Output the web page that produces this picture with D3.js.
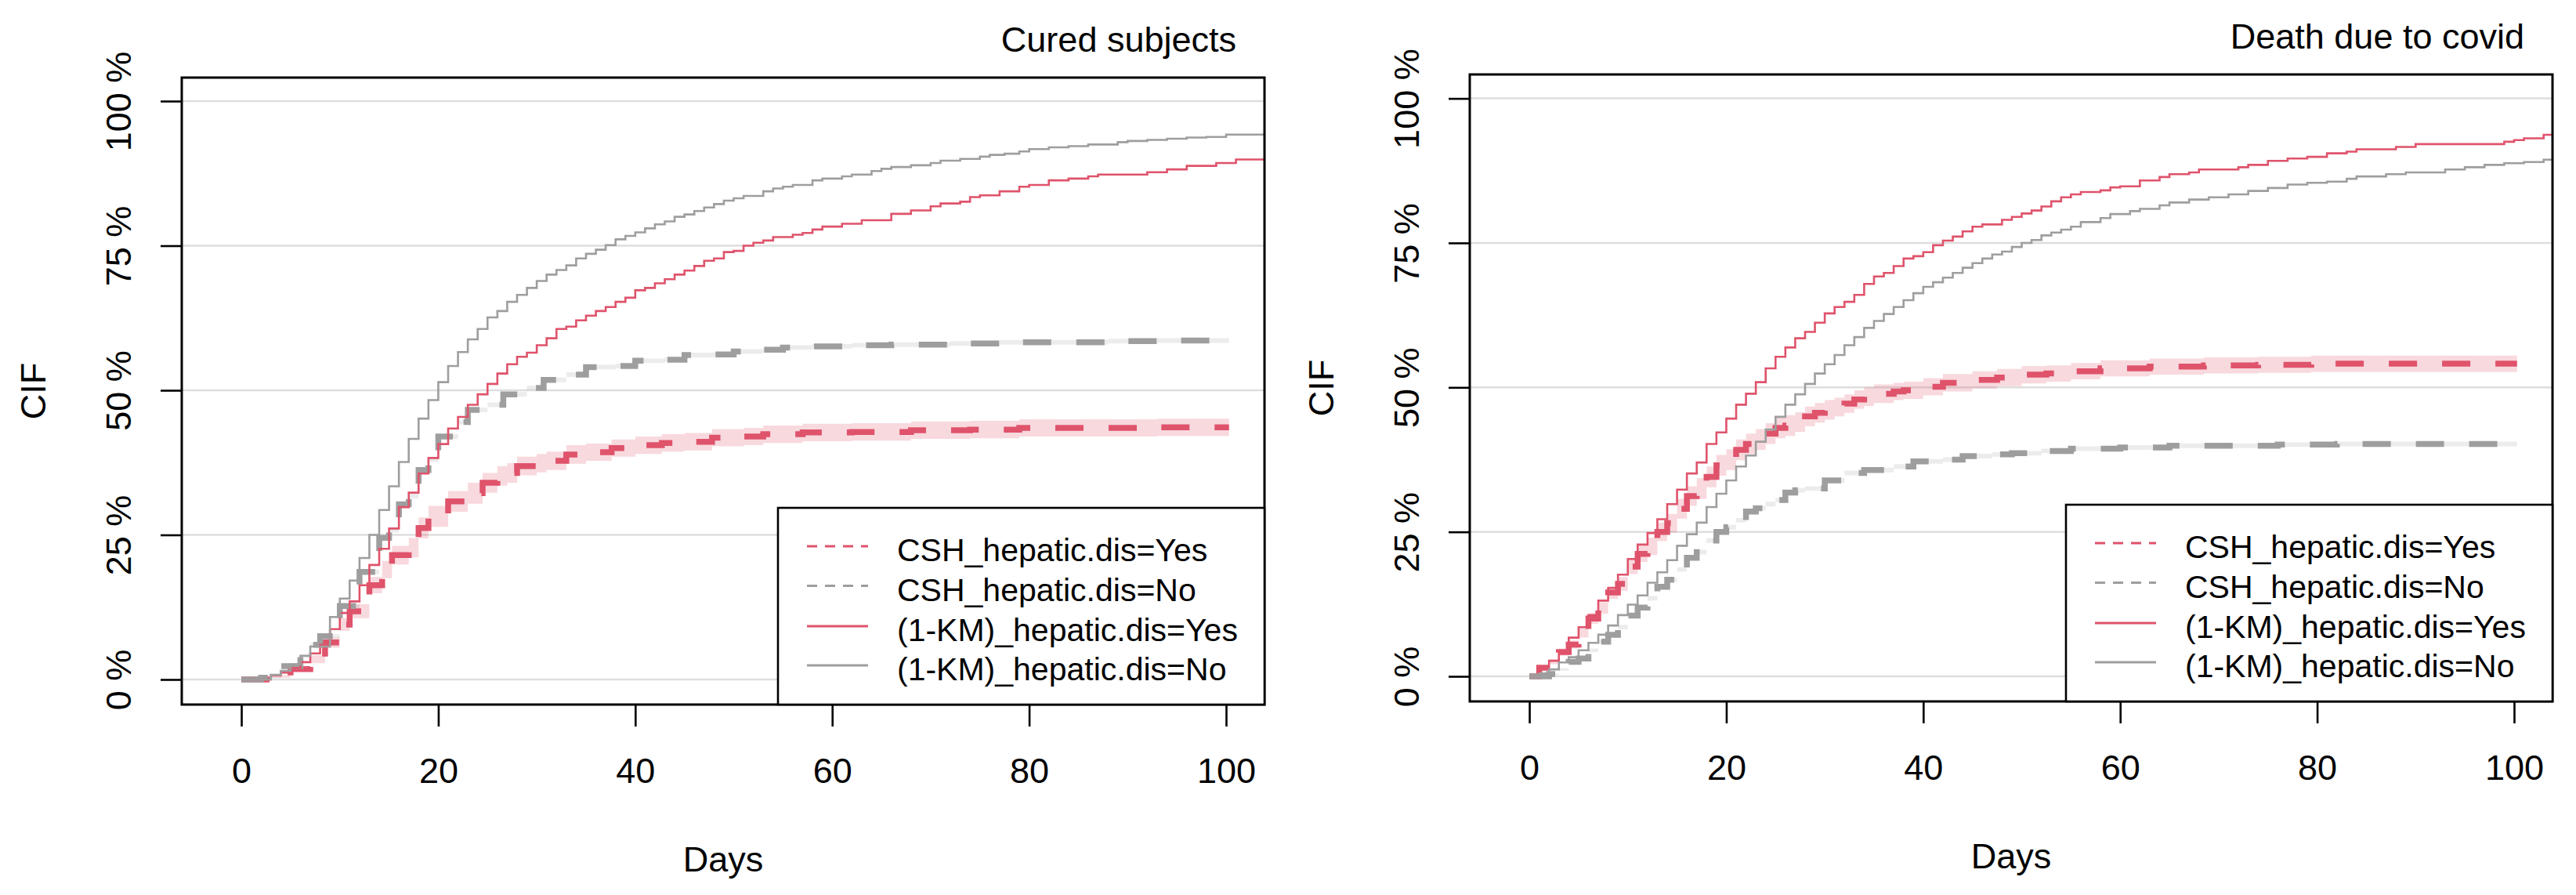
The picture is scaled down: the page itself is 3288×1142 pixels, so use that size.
<!DOCTYPE html>
<html>
<head>
<meta charset="utf-8">
<script src="https://cdn.jsdelivr.net/npm/d3@7/dist/d3.min.js"></script>
<style>
html, body { margin: 0; padding: 0; background: #ffffff; }
svg { display: block; }
text { font-family: "Liberation Sans", Arial, Helvetica, sans-serif; fill: #000; }
</style>
</head>
<body>
<svg id="chart" width="3288" height="1142"></svg>
<script>
// ---------------- data ----------------
const panelTitles = ["Cured subjects", "Death due to covid"];
const xTickValues = [0, 20, 40, 60, 80, 100];
const yTickValues = [0, 0.25, 0.5, 0.75, 1];
const yTickLabels = ["0 %", "25 %", "50 %", "75 %", "100 %"];
const xAxisLabel = "Days";
const yAxisLabel = "CIF";
const legendLabels = ["CSH_hepatic.dis=Yes", "CSH_hepatic.dis=No", "(1-KM)_hepatic.dis=Yes", "(1-KM)_hepatic.dis=No"];

// CSH curves: [day, CIF, CI half-width]
const curedCshYes = [[0,0,0],[3,0.005,0.002],[5,0.018,0.004],[7,0.035,0.007],[8.5,0.064,0.009],[10,0.095,0.011],[11,0.118,0.012],[13,0.163,0.014],[14.3,0.190,0.015],[15.3,0.215,0.016],[17,0.228,0.017],[18,0.262,0.018],[19,0.282,0.018],[21,0.308,0.018],[23,0.322,0.018],[24.5,0.340,0.017],[26,0.352,0.017],[27,0.357,0.017],[28,0.369,0.016],[30,0.374,0.016],[31,0.378,0.016],[33,0.389,0.016],[35,0.393,0.015],[37.6,0.400,0.015],[40,0.405,0.015],[42.7,0.409,0.015],[45,0.411,0.015],[47.8,0.418,0.015],[51,0.420,0.015],[53,0.424,0.015],[57,0.427,0.015],[62,0.428,0.015],[68,0.431,0.015],[74,0.432,0.015],[79,0.435,0.015],[86,0.435,0.015],[93,0.436,0.015],[100.3,0.436,0.015]];
const curedCshNo = [[0,0,0],[2,0.003,0.001],[4,0.023,0.002],[6,0.040,0.003],[7,0.060,0.003],[8,0.075,0.003],[10,0.127,0.004],[12,0.186,0.004],[14,0.245,0.004],[15,0.258,0.004],[16,0.303,0.004],[17,0.317,0.004],[18,0.362,0.004],[19,0.380,0.004],[20,0.420,0.004],[22,0.445,0.004],[23,0.466,0.004],[25,0.475,0.004],[26.6,0.493,0.004],[29,0.504,0.004],[30.7,0.518,0.004],[33,0.527,0.004],[35,0.540,0.004],[38,0.542,0.004],[40,0.551,0.004],[43,0.553,0.004],[45,0.561,0.004],[48,0.562,0.004],[50,0.567,0.004],[53,0.570,0.004],[55,0.574,0.004],[58,0.576,0.004],[62,0.578,0.004],[66,0.579,0.004],[72,0.581,0.004],[77,0.583,0.004],[84,0.583,0.004],[88,0.585,0.004],[93,0.586,0.004],[100.3,0.586,0.004]];
// (1-KM) curves: [day, CIF]
const curedKmYes = [[0,0],[3,0.007],[4,0.012],[5,0.020],[6,0.030],[7,0.045],[8,0.060],[9,0.087],[10,0.115],[11,0.135],[12,0.163],[13,0.198],[14,0.226],[15,0.261],[16,0.298],[17,0.323],[18,0.356],[19,0.383],[20,0.407],[21,0.434],[22,0.454],[23,0.475],[24,0.493],[25,0.511],[26,0.529],[27,0.545],[28,0.558],[29,0.565],[30,0.578],[31,0.590],[32,0.606],[33,0.610],[34,0.621],[35,0.629],[36,0.637],[37,0.644],[38,0.653],[39,0.660],[40,0.673],[41,0.677],[42,0.685],[43,0.692],[44,0.700],[45,0.707],[46,0.715],[47,0.724],[48,0.728],[49,0.739],[50,0.741],[51,0.750],[52,0.755],[53,0.759],[54,0.765],[56,0.769],[57,0.772],[58,0.778],[59,0.783],[61,0.788],[63,0.794],[66,0.805],[68,0.811],[70,0.818],[71,0.823],[73,0.826],[74,0.834],[75,0.837],[77,0.844],[79,0.852],[80,0.855],[82,0.863],[84,0.866],[86,0.870],[87,0.873],[92,0.877],[94,0.882],[96,0.888],[99,0.893],[101,0.899],[104,0.899]];
const curedKmNo = [[0,0],[3,0.008],[4,0.015],[5,0.026],[6,0.041],[7,0.057],[9,0.108],[10,0.140],[11,0.171],[12,0.210],[13,0.250],[14,0.293],[15,0.334],[16,0.376],[17,0.416],[18,0.451],[19,0.483],[20,0.514],[21,0.542],[22,0.566],[23,0.588],[24,0.606],[25,0.626],[26,0.637],[27,0.653],[28,0.665],[29,0.677],[30,0.689],[31,0.700],[32,0.708],[33,0.716],[34,0.728],[35,0.736],[36,0.743],[37,0.751],[38,0.761],[39,0.767],[40,0.773],[41,0.780],[42,0.787],[43,0.792],[44,0.800],[45,0.804],[46,0.810],[47,0.816],[48,0.822],[49,0.828],[50,0.832],[51,0.836],[53,0.844],[54,0.849],[55,0.852],[56,0.855],[58,0.863],[59,0.866],[61,0.870],[62,0.873],[64,0.879],[65,0.883],[66,0.886],[68,0.889],[70,0.893],[71,0.897],[73,0.900],[75,0.904],[76,0.907],[77.5,0.909],[79,0.913],[80,0.917],[82,0.920],[84,0.922],[86,0.925],[89,0.929],[90,0.931],[92,0.933],[94,0.935],[96,0.937],[98,0.938],[100,0.942],[104,0.942]];

const deathCshYes = [[0,0,0],[1,0.015,0.003],[2,0.025,0.004],[3,0.042,0.006],[4,0.055,0.007],[5,0.075,0.008],[6,0.100,0.009],[7,0.118,0.010],[8,0.145,0.011],[9,0.160,0.012],[10,0.190,0.013],[11,0.212,0.014],[12,0.225,0.015],[13,0.250,0.016],[14,0.265,0.016],[15,0.290,0.017],[16,0.312,0.017],[17,0.325,0.018],[18,0.345,0.018],[19,0.365,0.018],[20,0.375,0.018],[21,0.392,0.018],[22,0.402,0.018],[23,0.410,0.018],[24,0.420,0.018],[25,0.430,0.018],[26,0.434,0.018],[27,0.440,0.017],[28,0.450,0.017],[29,0.456,0.017],[30,0.461,0.017],[31,0.466,0.016],[32,0.472,0.016],[33,0.479,0.016],[34,0.484,0.016],[35,0.489,0.016],[37,0.493,0.015],[38,0.495,0.015],[40,0.501,0.015],[42,0.508,0.015],[45,0.513,0.015],[47.5,0.517,0.015],[50,0.522,0.015],[52.5,0.524,0.014],[55,0.528,0.014],[58,0.533,0.014],[63,0.536,0.014],[68.5,0.538,0.014],[74,0.539,0.014],[79.4,0.541,0.014],[100.3,0.541,0.014]];
const deathCshNo = [[0,0,0],[2,0.004,0.001],[3,0.012,0.002],[4,0.025,0.002],[5,0.031,0.003],[6,0.045,0.003],[7,0.060,0.003],[8,0.072,0.004],[9,0.085,0.004],[10,0.105,0.004],[11,0.119,0.004],[12,0.135,0.004],[13,0.155,0.004],[14,0.167,0.004],[15,0.185,0.004],[16,0.205,0.004],[17,0.215,0.004],[18,0.235,0.004],[19,0.250,0.004],[20,0.258,0.004],[21,0.270,0.004],[22,0.285,0.004],[23,0.291,0.004],[24,0.298,0.004],[25,0.305,0.004],[26,0.318,0.004],[27,0.322,0.004],[28,0.325,0.004],[30,0.339,0.004],[32,0.352,0.004],[34,0.357,0.004],[37,0.363,0.004],[39,0.372,0.004],[42,0.375,0.004],[44,0.381,0.004],[47,0.384,0.004],[49,0.386,0.004],[52,0.390,0.004],[55,0.394,0.004],[60,0.396,0.004],[65,0.399,0.004],[76,0.401,0.004],[82,0.402,0.004],[100.3,0.402,0.004]];
const deathKmYes = [[0,0],[1,0.015],[2,0.027],[3,0.040],[4,0.067],[5,0.085],[6,0.106],[7,0.131],[8,0.153],[9,0.176],[10,0.203],[11,0.228],[12,0.248],[13,0.272],[14,0.298],[15,0.323],[16,0.351],[17,0.370],[18,0.402],[19,0.422],[20,0.446],[21,0.470],[22,0.489],[23,0.509],[24,0.533],[25,0.553],[26,0.569],[27,0.585],[28,0.596],[29,0.612],[30,0.628],[31,0.639],[32,0.648],[33,0.660],[34,0.679],[35,0.692],[36,0.698],[37,0.710],[38,0.723],[39,0.727],[40,0.734],[41,0.746],[42,0.754],[43,0.761],[44,0.770],[45,0.778],[46,0.782],[48,0.790],[49,0.795],[50,0.801],[51,0.806],[52,0.813],[53,0.822],[54,0.829],[55,0.834],[56,0.838],[58,0.841],[59,0.846],[60,0.848],[62,0.858],[64,0.864],[65,0.869],[67,0.872],[68,0.877],[72,0.881],[73,0.885],[75,0.892],[77,0.896],[79,0.899],[81,0.905],[83,0.908],[84,0.912],[88,0.916],[90,0.921],[99,0.925],[100,0.928],[101,0.931],[103,0.937],[104,0.937]];
const deathKmNo = [[0,0],[1,0.005],[2,0.012],[3,0.024],[4,0.033],[5,0.045],[6,0.058],[7,0.072],[8,0.088],[9,0.106],[10,0.124],[11,0.140],[12,0.162],[13,0.180],[14,0.201],[15,0.226],[16,0.246],[17,0.266],[18,0.293],[19,0.316],[20,0.339],[21,0.363],[22,0.382],[23,0.406],[24,0.427],[25,0.449],[26,0.470],[27,0.488],[28,0.506],[29,0.524],[30,0.540],[31,0.556],[32,0.573],[33,0.587],[34,0.603],[35,0.615],[36,0.627],[37,0.639],[38,0.651],[39,0.663],[40,0.674],[41,0.682],[42,0.690],[43,0.698],[44,0.707],[45,0.715],[46,0.723],[47,0.730],[48,0.735],[49,0.743],[50,0.750],[51,0.755],[52,0.763],[53,0.768],[54,0.773],[55,0.778],[56,0.786],[58,0.793],[59,0.800],[61,0.805],[62,0.809],[64,0.815],[65,0.820],[67,0.825],[69,0.829],[71,0.834],[73,0.840],[75,0.845],[77,0.851],[79,0.854],[81,0.856],[83,0.861],[84,0.865],[87,0.869],[89,0.872],[93,0.877],[95,0.881],[97,0.885],[99,0.888],[101,0.890],[103,0.894],[104,0.894]];

// ---------------- drawing ----------------
const RED = "#DF536B", GREY = "#9E9E9E";
const svg = d3.select("#chart");
svg.append("rect").attr("width", 3288).attr("height", 1142).attr("fill", "#fff");

const panels = [
  { title: panelTitles[0], left: 232, right: 1614, top: 99, bottom: 899, yZero: 867, yOne: 129,
    series: { cshYes: curedCshYes, cshNo: curedCshNo, kmYes: curedKmYes, kmNo: curedKmNo } },
  { title: panelTitles[1], left: 1876, right: 3258, top: 95, bottom: 895, yZero: 863, yOne: 125.6,
    series: { cshYes: deathCshYes, cshNo: deathCshNo, kmYes: deathKmYes, kmNo: deathKmNo } }
];

const FONT = 45;

panels.forEach((p, i) => {
  const g = svg.append("g");
  const x = d3.scaleLinear().domain([-6.05, 103.9]).range([p.left, p.right]);
  const y = d3.scaleLinear().domain([0, 1]).range([p.yZero, p.yOne]);
  const clipId = "clip" + i;
  svg.append("defs").append("clipPath").attr("id", clipId)
    .append("rect").attr("x", p.left).attr("y", p.top)
    .attr("width", p.right - p.left).attr("height", p.bottom - p.top);

  // grid lines
  g.append("g").selectAll("line").data(yTickValues).join("line")
    .attr("x1", p.left).attr("x2", p.right)
    .attr("y1", d => y(d)).attr("y2", d => y(d))
    .attr("stroke", "#DEDEDE").attr("stroke-width", 2.5);

  const plot = g.append("g").attr("clip-path", `url(#${clipId})`);
  const area = d3.area().curve(d3.curveStepAfter)
    .x(d => x(d[0])).y0(d => y(d[1] - d[2])).y1(d => y(d[1] + d[2]));
  const line = d3.line().curve(d3.curveStepAfter).x(d => x(d[0])).y(d => y(d[1]));

  // confidence bands
  plot.append("path").datum(p.series.cshYes).attr("d", area)
    .attr("fill", RED).attr("fill-opacity", 0.22).attr("stroke", "none");
  plot.append("path").datum(p.series.cshNo).attr("d", area)
    .attr("fill", GREY).attr("fill-opacity", 0.2).attr("stroke", "none");

  // CSH dashed curves
  [[p.series.cshYes, RED], [p.series.cshNo, GREY]].forEach(([data, col]) => {
    plot.append("path").datum(data).attr("d", line)
      .attr("fill", "none").attr("stroke", col).attr("stroke-width", 7.5)
      .attr("stroke-dasharray", "36 32");
  });
  // (1-KM) solid step curves
  [[p.series.kmYes, RED], [p.series.kmNo, GREY]].forEach(([data, col]) => {
    plot.append("path").datum(data).attr("d", line)
      .attr("fill", "none").attr("stroke", col).attr("stroke-width", 2.6);
  });

  // axes ticks
  const xAxis = d3.axisBottom(x).tickValues(xTickValues).tickSize(28).tickPadding(0).tickFormat(d3.format("d"));
  const gx = g.append("g").attr("transform", `translate(0,${p.bottom})`).call(xAxis);
  gx.select(".domain").remove();
  gx.selectAll(".tick line").attr("stroke", "#000").attr("stroke-width", 2.6);
  gx.selectAll(".tick text").attr("y", 100).attr("dy", 0)
    .attr("font-size", FONT).attr("fill", "#000")
    .style("font-family", '"Liberation Sans", Arial, sans-serif');

  const yAxis = d3.axisLeft(y).tickValues(yTickValues).tickSize(27).tickFormat((d, k) => yTickLabels[k]);
  const gy = g.append("g").attr("transform", `translate(${p.left},0)`).call(yAxis);
  gy.select(".domain").remove();
  gy.selectAll(".tick line").attr("stroke", "#000").attr("stroke-width", 2.6);
  gy.selectAll(".tick text")
    .attr("x", null).attr("dy", null)
    .attr("transform", "translate(-65,0) rotate(-90)")
    .attr("text-anchor", "middle")
    .attr("font-size", FONT).attr("fill", "#000")
    .style("font-family", '"Liberation Sans", Arial, sans-serif');

  // plot box
  g.append("rect").attr("x", p.left).attr("y", p.top)
    .attr("width", p.right - p.left).attr("height", p.bottom - p.top)
    .attr("fill", "none").attr("stroke", "#000").attr("stroke-width", 3);

  // axis titles
  g.append("text").attr("x", (p.left + p.right) / 2).attr("y", p.bottom + 213)
    .attr("text-anchor", "middle").attr("font-size", FONT).text(xAxisLabel);
  g.append("text").attr("transform", `translate(${p.left - 174},${(p.top + p.bottom) / 2}) rotate(-90)`)
    .attr("text-anchor", "middle").attr("font-size", FONT).text(yAxisLabel);

  // panel title
  g.append("text").attr("x", p.right - 36).attr("y", p.top - 33)
    .attr("text-anchor", "end").attr("font-size", FONT).text(p.title);

  // legend
  const lgLeft = p.right - 621, lgTop = p.bottom - 251;
  const lg = g.append("g");
  lg.append("rect").attr("x", lgLeft).attr("y", lgTop).attr("width", p.right - lgLeft)
    .attr("height", p.bottom - lgTop).attr("fill", "#fff").attr("stroke", "#000").attr("stroke-width", 2.6);
  const styles = [
    { col: RED, dash: "13 10" }, { col: GREY, dash: "13 10" },
    { col: RED, dash: null }, { col: GREY, dash: null }
  ];
  const rowOffsets = [49, 99.5, 151, 201];
  legendLabels.forEach((lab, k) => {
    const ry = lgTop + rowOffsets[k];
    const ln = lg.append("line").attr("x1", lgLeft + 37).attr("x2", lgLeft + 115)
      .attr("y1", ry).attr("y2", ry).attr("stroke", styles[k].col).attr("stroke-width", 3);
    if (styles[k].dash) ln.attr("stroke-dasharray", styles[k].dash);
    lg.append("text").attr("x", lgLeft + 152).attr("y", ry + 19)
      .attr("font-size", 41).text(lab);
  });
});
</script>
</body>
</html>
